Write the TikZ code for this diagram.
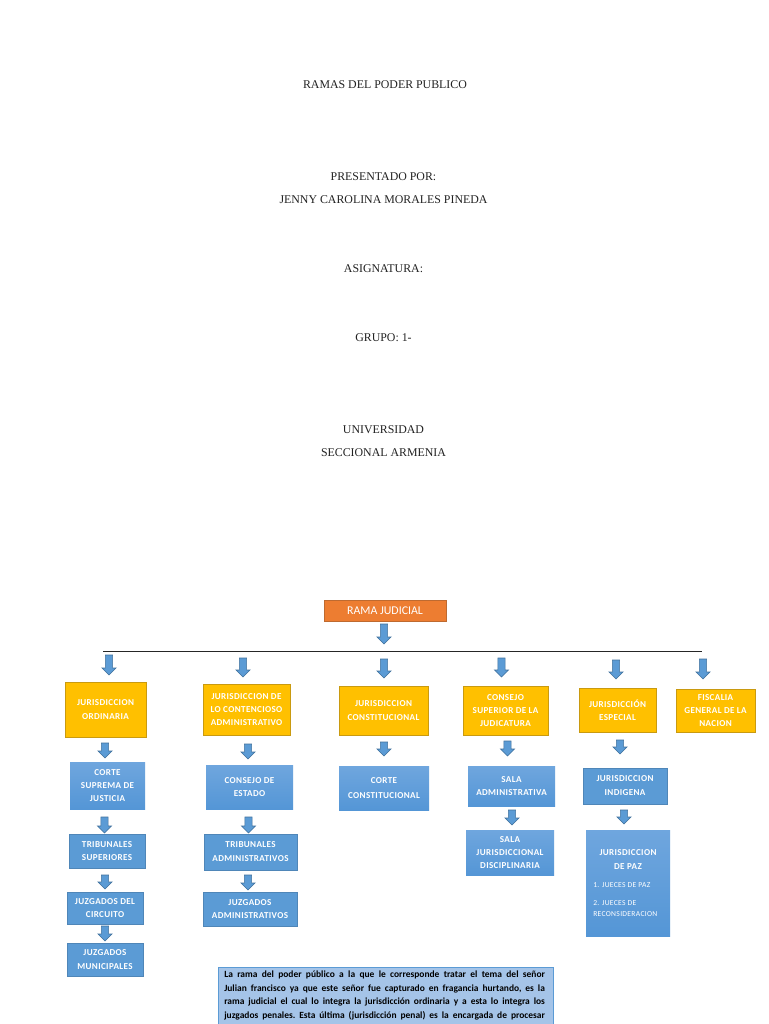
\documentclass[tikz,border=0pt]{standalone}
\usepackage{fontspec}
\setmainfont{Liberation Serif}
\newfontfamily\boxfont[LetterSpace=4]{Carlito}
\newfontfamily\plainfont{Carlito}
\definecolor{bluefill}{HTML}{5B9BD5}
\definecolor{bluetop}{HTML}{6FA6DE}
\definecolor{bluebot}{HTML}{5496D6}
\definecolor{blueline}{HTML}{41719C}
\definecolor{boxline}{HTML}{4F86B8}
\definecolor{yellowfill}{HTML}{FFC000}
\definecolor{yellowline}{HTML}{C99A10}
\definecolor{orangefill}{HTML}{ED7D31}
\definecolor{orangeline}{HTML}{BE6A30}
\definecolor{paleblue}{HTML}{A5C4E8}
\definecolor{titletext}{HTML}{222222}
\tikzset{
  px/.style={x=0.75pt,y=-0.75pt},
  titletxt/.style={font=\fontsize{8.9pt}{17pt}\selectfont,text=titletext,inner sep=0pt,align=center},
  boxbase/.style={inner sep=0pt,outer sep=0pt,align=center,text=white,font=\fontsize{6.8pt}{9.9pt}\selectfont\boxfont\bfseries},
  orangebox/.style={boxbase,fill=orangefill,draw=orangeline,line width=0.6pt,font=\fontsize{8.9pt}{10pt}\selectfont\plainfont},
  yellowbox/.style={boxbase,fill=yellowfill,draw=yellowline,line width=0.7pt},
  gradbox/.style={boxbase,top color=bluetop,bottom color=bluebot},
  solidbox/.style={boxbase,fill=bluefill,draw=boxline,line width=0.6pt},
  notebox/.style={fill=paleblue,draw=bluefill,line width=0.7pt,inner sep=0pt,outer sep=0pt},
  notetxt/.style={inner sep=0pt,anchor=north west,align=left,text=black,font=\fontsize{7.1pt}{10.1pt}\selectfont\plainfont\bfseries\frenchspacing},
  subtxt/.style={inner sep=0pt,anchor=west,align=left,text=white,font=\fontsize{5.7pt}{8pt}\selectfont\boxfont},
  blockarrow/.style={fill=bluefill,draw=blueline,line width=0.5pt,line join=miter},
  rulerline/.style={draw=black!85,line width=0.75pt}
}
% name, style, x1, y1, x2, y2, text
\newcommand{\pbox}[7]{\node[#2,minimum width={(#5-#3)*0.75pt},minimum height={(#6-#4)*0.75pt}] (#1) at ({(#3+#5)/2},{(#4+#6)/2}) {#7};}
% name, x, y1, y2 : block arrow pointing down
\newcommand{\parrow}[4]{\coordinate (#1) at (#2,#4);
  \draw[blockarrow] ({#2-3.6},#3) -- ({#2+3.6},#3) -- ({#2+3.6},{#4-7}) -- ({#2+7},{#4-7}) -- (#2,#4) -- ({#2-7},{#4-7}) -- ({#2-3.6},{#4-7}) -- cycle;}
\begin{document}
\begin{tikzpicture}[px]
\useasboundingbox (0,0) rectangle (768,1024);
\fill[white] (0,0) rectangle (768,1024);
\clip (0,0) rectangle (768,1024);
% cover page
\node[titletxt] (t1) at (385,85) {RAMAS DEL PODER PUBLICO};
\node[titletxt] (t2) at (383.5,177) {PRESENTADO POR:};
\node[titletxt] (t3) at (383.5,200) {JENNY CAROLINA MORALES PINEDA};
\node[titletxt] (t4) at (383.5,269) {ASIGNATURA:};
\node[titletxt] (t5) at (383.5,338) {GRUPO: 1-};
\node[titletxt] (t6) at (383.5,430) {UNIVERSIDAD};
\node[titletxt] (t7) at (383.5,453) {SECCIONAL ARMENIA};
% head
\pbox{rama}{orangebox}{324}{600}{446}{621}{RAMA JUDICIAL}
\parrow{a0}{384}{624}{644}
\coordinate (ruleL) at (103,651.5);
\coordinate (ruleR) at (702,651.5);
\draw[rulerline] (ruleL) -- (ruleR);
% arrows row 1
\parrow{a1}{109}{655}{675}
\parrow{a2}{243}{658}{677}
\parrow{a3}{384}{659}{678}
\parrow{a4}{501.5}{658}{677}
\parrow{a5}{616}{660}{679}
\parrow{a6}{703}{659}{679}
% yellow
\pbox{jord}{yellowbox}{65}{682}{146}{737}{JURISDICCION\\[0.6pt]ORDINARIA}
\pbox{jcont}{yellowbox}{203}{684}{290}{735}{JURISDICCION DE\\LO CONTENCIOSO\\ADMINISTRATIVO}
\pbox{jconst}{yellowbox}{339}{686}{428}{735}{JURISDICCION\\CONSTITUCIONAL}
\pbox{csj}{yellowbox}{463}{686}{548}{735}{CONSEJO\\SUPERIOR DE LA\\JUDICATURA}
\pbox{jesp}{yellowbox}{579}{688}{656}{732}{JURISDICCIÓN\\ESPECIAL}
\pbox{fisc}{yellowbox}{676}{689}{755}{732}{FISCALIA\\GENERAL DE LA\\NACION}
% arrows row 2
\parrow{b1}{105}{743}{758}
\parrow{b2}{248}{744}{759}
\parrow{b3}{384}{742}{756}
\parrow{b4}{507.5}{741}{756}
\parrow{b5}{620}{740}{754}
% blue row 1
\pbox{corte}{gradbox}{70}{762}{145}{809}{CORTE\\SUPREMA DE\\JUSTICIA}
\pbox{cest}{gradbox}{206}{765}{293}{809}{CONSEJO DE\\ESTADO}
\pbox{cconst}{gradbox}{339}{766}{429}{810}{CORTE\\[1pt]CONSTITUCIONAL}
\pbox{sadm}{gradbox}{468}{766}{555}{806}{SALA\\ADMINISTRATIVA}
\pbox{jind}{solidbox}{583}{768}{667}{804}{JURISDICCION\\[0.6pt]INDIGENA}
% arrows row 3
\parrow{c1}{104.5}{817}{833}
\parrow{c2}{248.5}{817}{833}
\parrow{c4}{512}{810}{825}
\parrow{c5}{624}{810}{824}
% blue row 2
\pbox{tsup}{solidbox}{69}{834}{145}{868}{TRIBUNALES\\SUPERIORES}
\pbox{tadm}{solidbox}{204}{834}{297}{870}{TRIBUNALES\\[0.6pt]ADMINISTRATIVOS}
\pbox{sjur}{gradbox}{466}{830}{554}{875}{SALA\\JURISDICCIONAL\\DISCIPLINARIA}
\pbox{jpaz}{gradbox}{586}{830}{670}{936}{}
\node[boxbase] (jpaztitle) at (628,859.5) {JURISDICCION\\[1pt]DE PAZ};
\node[subtxt] (jp1) at (593,885.5) {1. JUECES DE PAZ};
\node[subtxt] (jp2) at (593,903) {2. JUECES DE};
\node[subtxt] (jp3) at (593,914.5) {RECONSIDERACION};
% arrows row 4
\parrow{d1}{105}{875}{889}
\parrow{d2}{248}{875}{890}
% blue row 3
\pbox{jcir}{solidbox}{67}{892}{143}{924}{JUZGADOS DEL\\CIRCUITO}
\pbox{jadm}{solidbox}{203}{892}{297}{926}{JUZGADOS\\ADMINISTRATIVOS}
\parrow{e1}{105}{926}{941}
\pbox{jmun}{solidbox}{67}{943}{143}{976}{JUZGADOS\\MUNICIPALES}
% note
\pbox{note}{notebox}{218}{967}{553}{1030}{}
\node[notetxt] (notetext) at (224,971) {%
\makebox[240.5pt][s]{La rama del poder público a la que le corresponde tratar el tema del señor}\\
\makebox[240.5pt][s]{Julian francisco ya que este señor fue capturado en fragancia hurtando, es la}\\
\makebox[240.5pt][s]{rama judicial el cual lo integra la jurisdicción ordinaria y a esta lo integra los}\\
\makebox[240.5pt][s]{juzgados penales. Esta última (jurisdicción penal) es la encargada de procesar}};
\end{tikzpicture}
\end{document}
